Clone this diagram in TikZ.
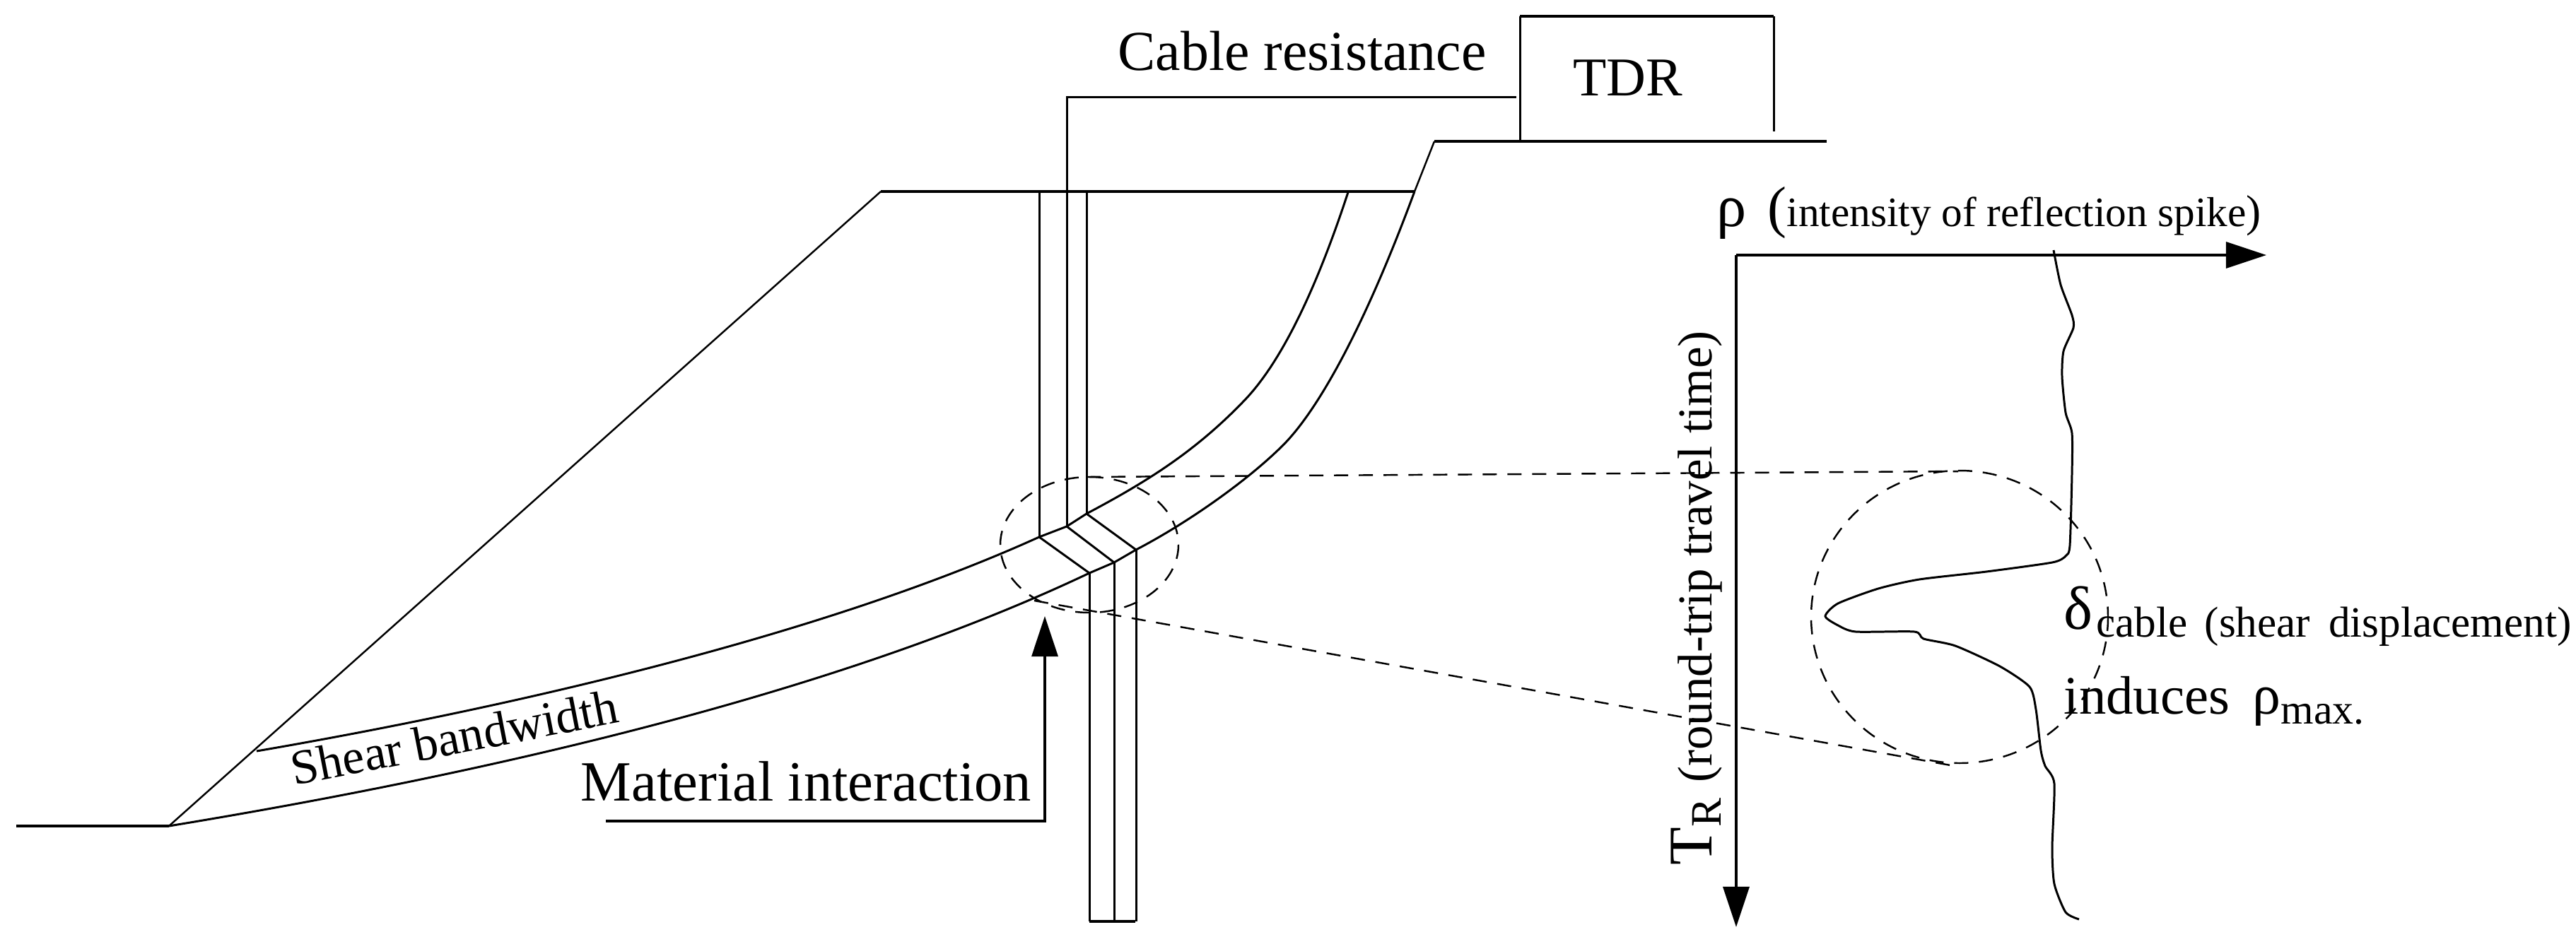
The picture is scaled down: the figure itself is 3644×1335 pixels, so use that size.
\documentclass[tikz,border=0pt]{standalone}
\usepackage{fontspec}
\setmainfont{Liberation Serif}
\usetikzlibrary{arrows.meta}
\newcommand{\fsz}[1]{\fontsize{#1}{#1}\selectfont}
\tikzset{
	ground/.style={line width=1.15pt},
	thin line/.style={line width=0.85pt},
	slope line/.style={line width=0.7pt},
	dashed line/.style={line width=0.7pt,dash pattern=on 0.2cm off 0.15cm},
	axis/.style={line width=0.9pt,-{Triangle[length=0.57cm,width=0.37cm]}},
	label text/.style={anchor=base west,inner sep=0pt}
}
\begin{document}
\begin{tikzpicture}[x=0.01cm,y=-0.01cm]
	\useasboundingbox (0,0) rectangle (3644,1335);
	\coordinate (TOE_LEFT) at (23,1169);
	\coordinate (TOE) at (239,1169);
	\coordinate (CREST) at (1246,271);
	\coordinate (BENCH) at (2001,271);
	\coordinate (BERM) at (2029,200);
	\coordinate (BERM_END) at (2584,200);
	\coordinate (JOINT_A) at (1470,760);
	\coordinate (JOINT_B) at (1509,745);
	\coordinate (JOINT_C) at (1537,727);
	\coordinate (LOW_A) at (1541,811);
	\coordinate (LOW_B) at (1576,796);
	\coordinate (LOW_C) at (1607,778);
	\coordinate (ORIGIN) at (2456,361);
	
	% slope and ground
	\draw [ground] (TOE_LEFT) -- (TOE);
	\draw [slope line] (TOE) -- (CREST);
	\draw [ground] (CREST) -- (BENCH);
	\draw [slope line] (BENCH) -- (BERM);
	\draw [ground] (BERM) -- (BERM_END);
	
	% shear band
	\draw [thin line] (363,1063) .. controls (700,1005) and (1150,905) .. (JOINT_A) -- (JOINT_B) -- (JOINT_C) .. controls (1620,683) and (1690,640) .. (1760,567) .. controls (1820,505) and (1870,385) .. (1907,272);
	\draw [thin line] (TOE) .. controls (640,1103) and (1160,992) .. (LOW_A) -- (LOW_B) -- (LOW_C) .. controls (1680,740) and (1765,680) .. (1815,630) .. controls (1855,590) and (1920,490) .. (BENCH);
	
	% cable
	\draw [thin line] (1470,271) -- (JOINT_A);
	\draw [thin line] (2145,137) -- (1509,137) -- (JOINT_B);
	\draw [thin line] (1537,271) -- (JOINT_C);
	\draw [thin line] (JOINT_A) -- (LOW_A);
	\draw [thin line] (JOINT_B) -- (LOW_B);
	\draw [thin line] (JOINT_C) -- (LOW_C);
	\draw [thin line] (LOW_A) -- (1541,1304);
	\draw [thin line] (LOW_B) -- (1576,1304);
	\draw [thin line] (LOW_C) -- (1607,1304);
	\draw [ground] (1541,1304) -- (1606,1304);
	
	% TDR box, open at the lower right
	\draw [thin line] (2150,200) -- (2150,23);
	\draw [ground] (2150,23) -- (2509,23);
	\draw [thin line] (2509,23) -- (2509,186);
	
	% zoom circles and guide lines
	\draw [dashed line] (1541,771) ellipse (126 and 96);
	\draw [dashed line] (2772,873) ellipse (210 and 207);
	\draw [dashed line] (1537,675) -- (2770,667);
	\draw [dashed line] (1463,850) -- (2759,1083);
	
	% axes
	\draw [axis] (ORIGIN) -- (3206,361);
	\draw [axis] (ORIGIN) -- (2456,1312);
	\draw [axis] (857,1162) -- (1478,1162) -- (1478,872);
	
	% reflection trace
	\draw [thin line] plot[smooth,tension=0.4] coordinates {(2905,354) (2915,403) (2931,446) (2933,464) (2919,497) (2917,533) (2922,584) (2931,613) (2931,671) (2928,772) (2922,787) (2903,796) (2810,809) (2715,820) (2657,833) (2600,854) (2582,872) (2600,885) (2625,894) (2708,894) (2721,904) (2766,914) (2829,943) (2871,972) (2880,1004) (2887,1062) (2893,1084) (2906,1109) (2903,1200) (2906,1251) (2922,1291) (2941,1301)};
	
	\node [label text] (CABLE_LABEL) at (1581,99) {\fsz{22.7}Cable resistance};
	\node [label text] (TDR_LABEL) at (2225,135) {\fsz{22}TDR};
	\node [label text] (INTERACTION_LABEL) at (821,1133) {\fsz{22.9}Material interaction};
	\node [label text,rotate=11] (BAND_LABEL) at (416,1112) {\fsz{19.8}Shear bandwidth};
	\node [label text] (RHO_LABEL) at (2428,320) {\fsz{24}ρ\hspace{0.3cm}\fsz{23}(\fsz{16.85}intensity of reflection spike\fsz{18})};
	\node [label text,rotate=90] (TIME_LABEL) at (2421,1225) {\fsz{25}T\raisebox{-0.13cm}{\fsz{17.5}R}\hspace{0.22cm}\fsz{19.6}(round-trip travel time)};
	\node [label text] (DELTA_LABEL) at (2919,890) {\fsz{24.7}δ\hspace{0.05cm}\raisebox{-0.11cm}{\fsz{17.4}cable\hspace{0.24cm}(shear\hspace{0.26cm}displacement)}};
	\node [label text] (INDUCES_LABEL) at (2919,1010) {\fsz{21.8}induces\hspace{0.33cm}\fsz{22.7}ρ\raisebox{-0.14cm}{\fsz{17}max.}};
\end{tikzpicture}
\end{document}
